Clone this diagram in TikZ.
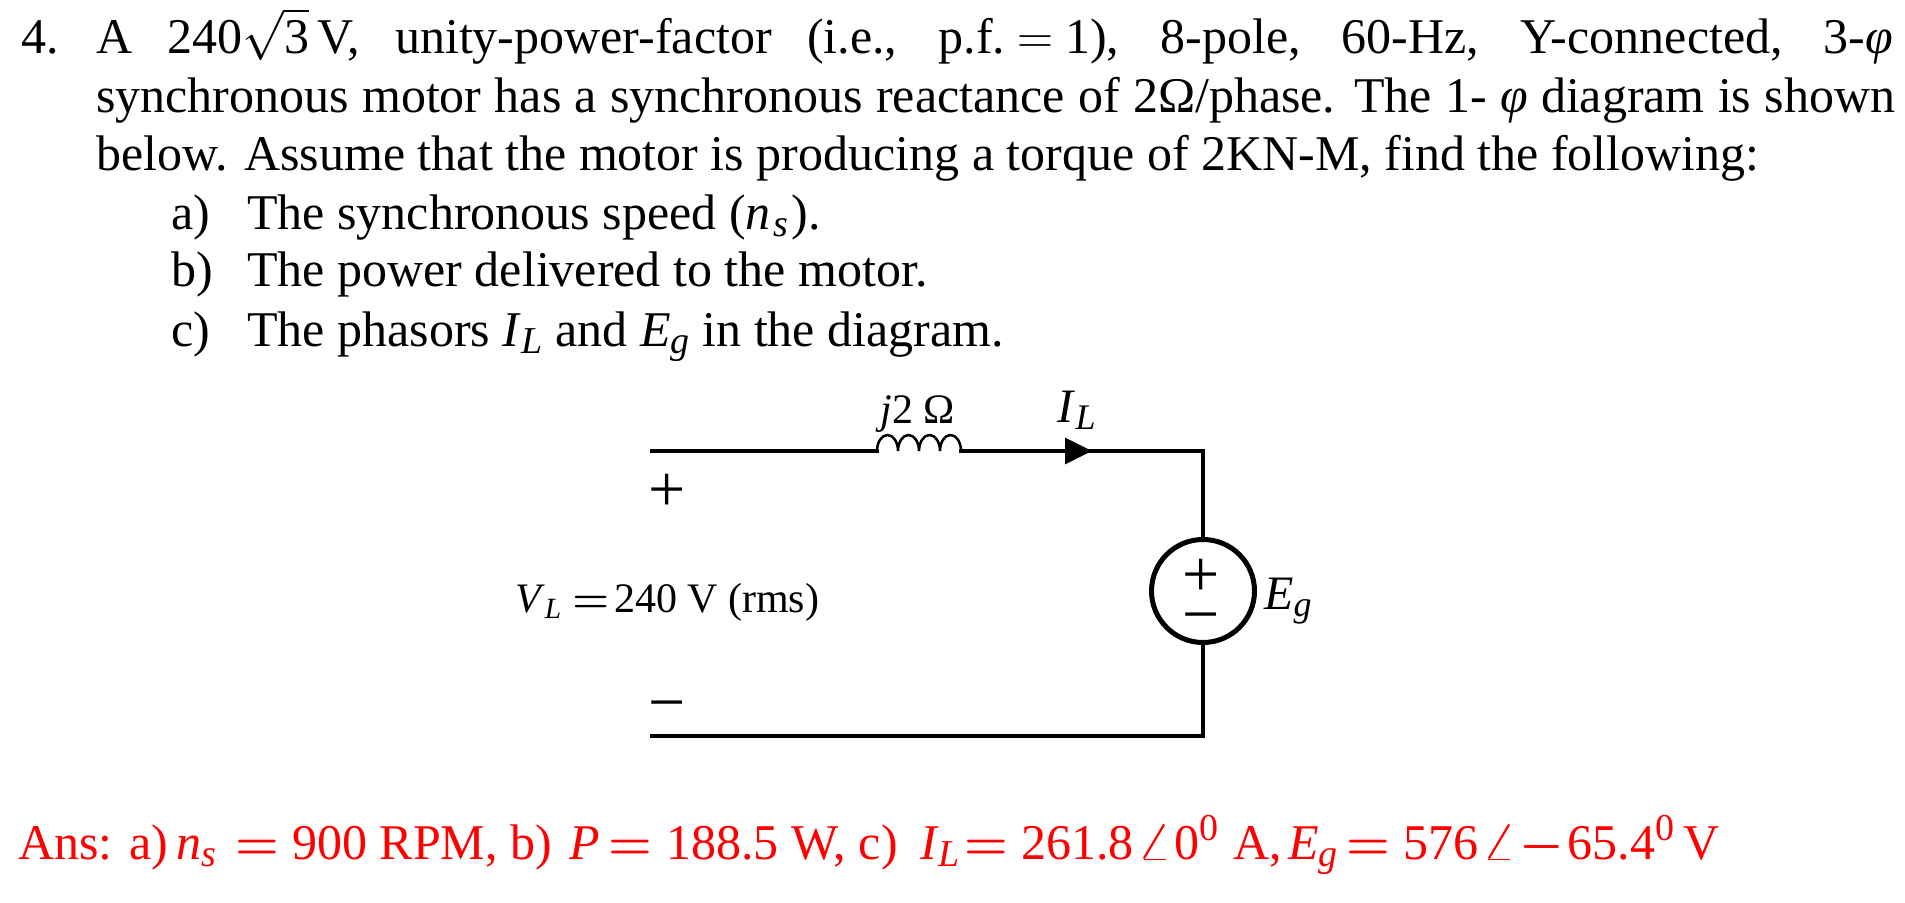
\documentclass[tikz,border=0pt]{standalone}
\usepackage{fix-cm}
\usepackage{amsmath}
\usepackage{fontspec}
\setmainfont{Liberation Serif}
\usetikzlibrary{arrows.meta}

\DeclareMathSizes{50}{50}{38}{30}
\DeclareMathSizes{48}{48}{36}{28}
\newcommand{\mvar}[1]{\text{\textit{#1}}}
\newcommand{\eqs}{$\boldsymbol{=}$}
\newcommand{\ang}{\kern4pt$\boldsymbol{\angle}$\kern3pt}

\begin{document}
\begin{tikzpicture}[x=1pt,y=-1pt,every node/.style={inner sep=0pt}]
	
	\tikzset{wire/.style = {line width=3.5pt,line cap=rect},
		coilwire/.style = {line width=2.5pt},
		edge/.style = {wire,-{Triangle[length=27pt,width=26pt]}},
		txt/.style = {anchor=base west,font=\fontsize{50}{58}\selectfont},
		lbl/.style = {font=\fontsize{42}{50}\selectfont},
		sym/.style = {font=\fontsize{66}{70}\selectfont}}
	
	\useasboundingbox (0,0) rectangle (1905,902);
	
	% question text
	\node[txt] (num)  at (21,53)  {4.};
	\node[txt] (l1)   at (96,53)  {\makebox[1797pt][s]{A 240$\sqrt{\text{3}}$\,V, unity-power-factor (i.e., p.f.\kern12pt$=$\kern12pt1), 8-pole, 60-Hz, Y-connected, 3-\textit{φ}}};
	\node[txt] (l2)   at (96,112) {\makebox[1799pt][s]{synchronous motor has a synchronous reactance of 2Ω/phase. The 1- \textit{φ} diagram is shown}};
	\node[txt] (l3)   at (96,170) {below. Assume that the motor is producing a torque of 2KN-M, find the following:};
	
	\foreach \k/\y/\txt in {a/229/{The synchronous speed ($\mvar{n\kern3pt}_{\mvar{s}}$\kern3pt).},b/286/{The power delivered to the motor.},c/346/{The phasors $\mvar{I}_{\mvar{L}}$ and $\mvar{E}_{\mvar{g}}$ in the diagram.}}{
		\node[txt] (lab\k)  at (171,\y) {\k)};
		\node[txt] (item\k) at (247,\y) {\txt};
	}
	
	% circuit
	\coordinate (tl)    at (652,451);
	\coordinate (coilL) at (877,451);
	\coordinate (coilR) at (961,451);
	\coordinate (tip)   at (1092,451);
	\coordinate (tr)    at (1203,451);
	\coordinate (bl)    at (652,736);
	\coordinate (br)    at (1203,736);
	\node[circle,draw=black,line width=5pt,minimum size=103pt] (src) at (1203,591) {};
	
	\foreach \source/\dest in {tl/coilL,coilR/tip,tip/tr,tr/src,src/br,br/bl}
	\draw[wire] (\source) to (\dest);
	\draw[edge] (coilR) to (tip);
	\draw[coilwire] (coilL) arc[start angle=180,end angle=0,x radius=10.5pt,y radius=16pt]
		arc[start angle=180,end angle=0,x radius=10.5pt,y radius=16pt]
		arc[start angle=180,end angle=0,x radius=10.5pt,y radius=16pt]
		arc[start angle=180,end angle=0,x radius=10.5pt,y radius=16pt];
	
	% circuit labels
	\node[lbl] (zl)    at (918,414)  {\textit{j}2 Ω};
	\node[lbl] (il)    at (1077,410) {\fontsize{48}{50}\selectfont$\mvar{I}_{\mvar{L}}$};
	\node[lbl,anchor=base west] (vl) at (515,612) {$\mvar{V}_{\mvar{L}}$ \eqs\kern5pt 240 V (rms)};
	\node[lbl,anchor=base west] (eg) at (1264,609) {\fontsize{48}{50}\selectfont$\mvar{E}_{\mvar{g}}$};
	\node[sym] (vplus)  at (667,493) {+};
	\node[sym] (vminus) at (667,713) {−};
	\node[sym] (eplus)  at (1201,578) {+};
	\node[sym] (eminus) at (1201,625) {−};
	
	% answer
	\foreach \k/\x/\txt in {a/18/{Ans: a)},b/176/{$\mvar{n}_{\mvar{s}}$},c/235/\eqs,d/292/{900 RPM, b)},e/569/{$\mvar{P}$},f/608/\eqs,g/666/{188.5 W, c)},h/920/{$\mvar{I}_{\mvar{L}}$},i/964/\eqs,j/1021/{261.8\ang 0$^{\text{0}}$},k/1233/{A,},l/1288/{$\mvar{E}_{\mvar{g}}$},m/1346/\eqs,n/1403/{576\ang $\boldsymbol{-}$\kern4pt 65.4$^{\text{0}}$},o/1683/V}
	\node[txt,text=red] (ans\k) at (\x,859) {\txt};
	
\end{tikzpicture}
\end{document}
